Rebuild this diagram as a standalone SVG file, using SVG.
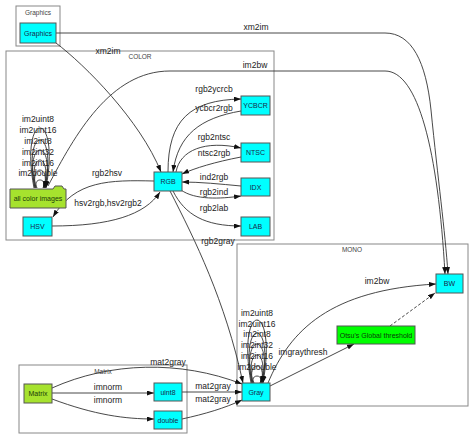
<svg xmlns="http://www.w3.org/2000/svg" width="474" height="440" viewBox="0 0 474 440">
<style>
.cl{fill:none;stroke:#888;stroke-width:1}
.clt{font-family:"Liberation Sans",Arial,sans-serif;font-size:6.5px;fill:#444;text-anchor:middle}
.e{fill:none;stroke:#333;stroke-width:0.9;marker-end:url(#ah)}
.d{stroke-dasharray:3,2}
.el{font-family:"Liberation Sans",Arial,sans-serif;font-size:8.5px;fill:#222;text-anchor:middle}
.n{fill:#00ffff;stroke:#555;stroke-width:1}
.g{fill:#a6e22e;stroke:#555;stroke-width:1}
.o{fill:#00ff00;stroke:#555;stroke-width:1}
.nt{font-family:"Liberation Sans",Arial,sans-serif;font-size:7px;fill:#1a2a4a;text-anchor:middle}
.ot{font-family:"Liberation Sans",Arial,sans-serif;font-size:7px;fill:#0a3a0a;text-anchor:middle}
</style>
<defs>
<marker id="ah" markerWidth="7" markerHeight="5" refX="7" refY="2.5" orient="auto" markerUnits="userSpaceOnUse">
<path d="M0,0 L7,2.5 L0,5 z" fill="#111"/>
</marker>
</defs>
<rect width="474" height="440" fill="#fff"/>
<g id="clusters">
<rect class="cl" x="16" y="6" width="44" height="40"/>
<text class="clt" x="38" y="15">Graphics</text>
<rect class="cl" x="6" y="51" width="268" height="189"/>
<text class="clt" x="140" y="59">COLOR</text>
<rect class="cl" x="237" y="244" width="231" height="162"/>
<text class="clt" x="352" y="252">MONO</text>
<rect class="cl" x="19" y="365" width="168" height="68"/>
<text class="clt" x="103" y="374">Matrix</text>
</g>
<g id="connectors">
<path class="e" d="M56 33 L385 33 C412 33 426 62 431 110 C438 180 445 230 448 274"/>
<path class="e" d="M56 43 C85 65 140 120 161 172"/>
<path class="e" d="M48 186 C75 135 110 71 170 71 L385 71 C418 71 438 150 445 274"/>
<path class="e" d="M37 188 C32 177.3 48 177.3 43 188"/>
<path class="e" d="M36 188 C29 164 51 164 44 188"/>
<path class="e" d="M36 188 C27 150.7 53 150.7 44 188"/>
<path class="e" d="M35 188 C24 137.3 56 137.3 45 188"/>
<path class="e" d="M35 188 C22 124 58 124 45 188"/>
<path class="e" d="M34 188 C19 108 61 108 46 188"/>
<path class="e" d="M154 181 C110 180 75 180 53 217"/>
<path class="e" d="M52 226 C110 226 145 215 160 192"/>
<path class="e" d="M168 172 C168 120 190 100 241 99"/>
<path class="e" d="M241 111 C200 118 178 135 173 172"/>
<path class="e" d="M176 172 C180 150 205 140 241 148"/>
<path class="e" d="M241 157 C215 162 195 168 182 174"/>
<path class="e" d="M241 186 C220 184 200 182 182 182"/>
<path class="e" d="M181 190 C195 200 220 199 241 196"/>
<path class="e" d="M173 191 C185 215 205 226 241 226"/>
<path class="e" d="M170 191 C195 240 225 300 243 383"/>
<path class="e" d="M254 383 C249 373.7 265 373.7 260 383"/>
<path class="e" d="M253 383 C246 360.3 268 360.3 261 383"/>
<path class="e" d="M253 383 C244 345.7 270 345.7 261 383"/>
<path class="e" d="M252 383 C241 331 273 331 262 383"/>
<path class="e" d="M252 383 C239 316.3 275 316.3 262 383"/>
<path class="e" d="M251 383 C236 299 278 299 263 383"/>
<path class="e" d="M270 386 L354 344"/>
<path class="e" d="M268 383 C290 330 330 290 436 284"/>
<path class="e d" d="M390 326 L435 293"/>
<path class="e" d="M52 388 C110 362 180 360 242 384"/>
<path class="e" d="M52 393 L154 393"/>
<path class="e" d="M52 399 C95 415 125 419 154 419"/>
<path class="e" d="M182 392 L242 392"/>
<path class="e" d="M182 419 C205 414 225 408 242 400"/>
</g>
<g id="edge-labels">
<text class="el" x="256" y="30">xm2im</text>
<text class="el" x="108" y="54">xm2im</text>
<text class="el" x="255" y="68">im2bw</text>
<text class="el" x="38" y="122">im2uint8</text>
<text class="el" x="38" y="133">im2uint16</text>
<text class="el" x="38" y="144">im2int8</text>
<text class="el" x="38" y="155">im2int32</text>
<text class="el" x="38" y="166">im2int16</text>
<text class="el" x="38" y="176">im2double</text>
<text class="el" x="107" y="176">rgb2hsv</text>
<text class="el" x="108" y="206">hsv2rgb,hsv2rgb2</text>
<text class="el" x="214" y="92">rgb2ycrcb</text>
<text class="el" x="214" y="111">ycbcr2rgb</text>
<text class="el" x="214" y="140">rgb2ntsc</text>
<text class="el" x="214" y="156">ntsc2rgb</text>
<text class="el" x="214" y="180">ind2rgb</text>
<text class="el" x="214" y="195">rgb2ind</text>
<text class="el" x="214" y="211">rgb2lab</text>
<text class="el" x="218" y="244">rgb2gray</text>
<text class="el" x="257" y="316">im2uint8</text>
<text class="el" x="257" y="327">im2uint16</text>
<text class="el" x="257" y="337">im2int8</text>
<text class="el" x="257" y="348">im2int32</text>
<text class="el" x="257" y="359">im2int16</text>
<text class="el" x="257" y="370">im2double</text>
<text class="el" x="303" y="355">imgraythresh</text>
<text class="el" x="377" y="284">im2bw</text>
<text class="el" x="168" y="365">mat2gray</text>
<text class="el" x="108" y="390">imnorm</text>
<text class="el" x="108" y="403">imnorm</text>
<text class="el" x="213" y="389">mat2gray</text>
<text class="el" x="213" y="402">mat2gray</text>
</g>
<g id="node-Graphics"><rect class="n" x="20" y="23" width="36" height="20"/><text class="nt" x="38" y="35.5">Graphics</text></g>
<g id="node-allcolor"><path class="g" d="M10 189 L53 189 L55 186 L62 186 L64 189 L66 189 L66 208 L10 208 Z"/><text class="nt" x="38" y="200.5" style="fill:#1a3a0a">all color images</text></g>
<g id="node-HSV"><rect class="n" x="23" y="217" width="29" height="19"/><text class="nt" x="37.5" y="229">HSV</text></g>
<g id="node-RGB"><rect class="n" x="154" y="172" width="28" height="19"/><text class="nt" x="168" y="184">RGB</text></g>
<g id="node-YCBCR"><rect class="n" x="241" y="96" width="29" height="19"/><text class="nt" x="255.5" y="108">YCBCR</text></g>
<g id="node-NTSC"><rect class="n" x="241" y="143" width="29" height="19"/><text class="nt" x="255.5" y="155">NTSC</text></g>
<g id="node-IDX"><rect class="n" x="241" y="178" width="29" height="18"/><text class="nt" x="255.5" y="189.5">IDX</text></g>
<g id="node-LAB"><rect class="n" x="241" y="217" width="29" height="19"/><text class="nt" x="255.5" y="229">LAB</text></g>
<g id="node-BW"><rect class="n" x="436" y="274" width="27" height="19"/><text class="nt" x="449.5" y="286">BW</text></g>
<g id="node-Otsu"><rect class="o" x="337" y="326" width="78" height="18"/><text class="ot" x="376" y="337.5">Otsu's Global threshold</text></g>
<g id="node-Gray"><rect class="n" x="242" y="383" width="28" height="18"/><text class="nt" x="256" y="394.5">Gray</text></g>
<g id="node-Matrix"><rect class="g" x="24" y="384" width="28" height="19"/><text class="nt" x="38" y="396" style="fill:#1a3a0a">Matrix</text></g>
<g id="node-uint8"><rect class="n" x="154" y="383" width="28" height="18"/><text class="nt" x="168" y="394.5">uint8</text></g>
<g id="node-double"><rect class="n" x="154" y="411" width="28" height="18"/><text class="nt" x="168" y="422.5">double</text></g>
</svg>
